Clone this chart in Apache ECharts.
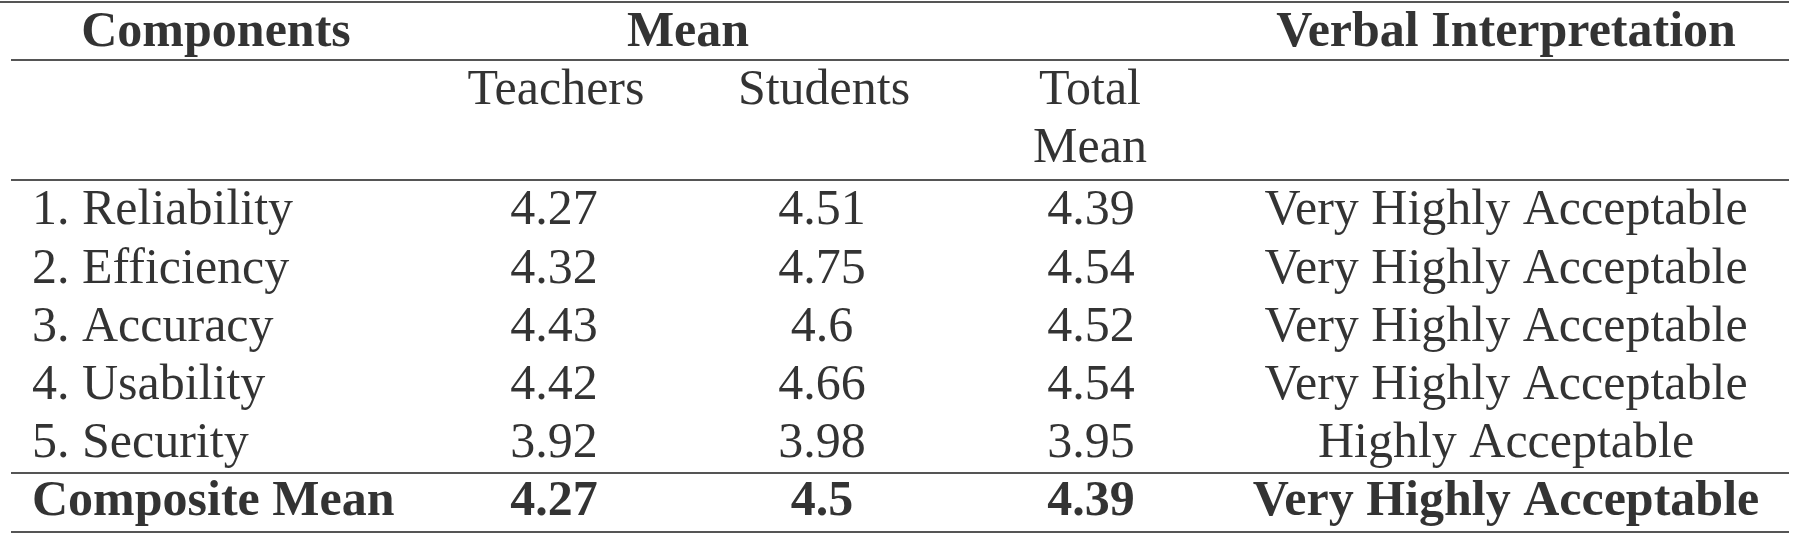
<!DOCTYPE html>
<html><head><meta charset="utf-8">
<script src="https://cdn.jsdelivr.net/npm/echarts@6/dist/echarts.min.js"></script>
<style>html,body{margin:0;padding:0;background:#fff}#c{width:1799px;height:537px}</style>
</head><body><div id="c"></div>
<script>
var components = ['1. Reliability','2. Efficiency','3. Accuracy','4. Usability','5. Security'];
var teachers = ['4.27','4.32','4.43','4.42','3.92'];
var students = ['4.51','4.75','4.6','4.66','3.98'];
var totalMean = ['4.39','4.54','4.52','4.54','3.95'];
var verbal = ['Very Highly Acceptable','Very Highly Acceptable','Very Highly Acceptable','Very Highly Acceptable','Highly Acceptable'];
var composite = ['Composite Mean','4.27','4.5','4.39','Very Highly Acceptable'];
var headers = ['Components','Mean','Verbal Interpretation'];
var subHeaders = ['Teachers','Students','Total\nMean'];

// layout
var colX = [32, 554, 822, 1091, 1506];
var rowY = [211, 270, 328, 386, 444];
var compY = 502;
var FS = 50;
var font = '"Liberation Serif","Times New Roman",serif';

var pts = [];
function add(x, y, t, align, bold) {
  pts.push({value:[x,y], label:{formatter:t, align:align, fontWeight:bold?'bold':'normal'}});
}
add(216,33,headers[0],'center',true);
add(688,33,headers[1],'center',true);
add(1506,33,headers[2],'center',true);
add(556,91,subHeaders[0],'center');
add(824,91,subHeaders[1],'center');
add(1090,120,subHeaders[2],'center');
for (var i=0;i<components.length;i++){
  add(colX[0],rowY[i],components[i],'left');
  add(colX[1],rowY[i],teachers[i],'center');
  add(colX[2],rowY[i],students[i],'center');
  add(colX[3],rowY[i],totalMean[i],'center');
  add(colX[4],rowY[i],verbal[i],'center');
}
for (var j=0;j<composite.length;j++) add(colX[j],compY,composite[j],j===0?'left':'center',true);

var lineY = [[0,1789,2],[11,1789,60],[11,1789,180],[11,1789,473],[11,1789,532]];
var chart = echarts.init(document.getElementById('c'));
chart.setOption({
  animation:false,
  grid:{left:0,right:0,top:0,bottom:0},
  xAxis:{type:'value',min:0,max:1799,show:false},
  yAxis:{type:'value',min:0,max:537,inverse:true,show:false},
  series:[{
    type:'scatter', symbolSize:0, data:pts,
    label:{show:true, position:'inside', color:'#000', fontSize:FS, fontFamily:font, lineHeight:58, verticalAlign:'middle'},
    markLine:{silent:true, symbol:'none', label:{show:false},
      lineStyle:{color:'#555', width:2, type:'solid'},
      data: lineY.map(function(l){return [{coord:[l[0],l[2]]},{coord:[l[1],l[2]]}];})
    }
  }]
});
</script></body></html>
